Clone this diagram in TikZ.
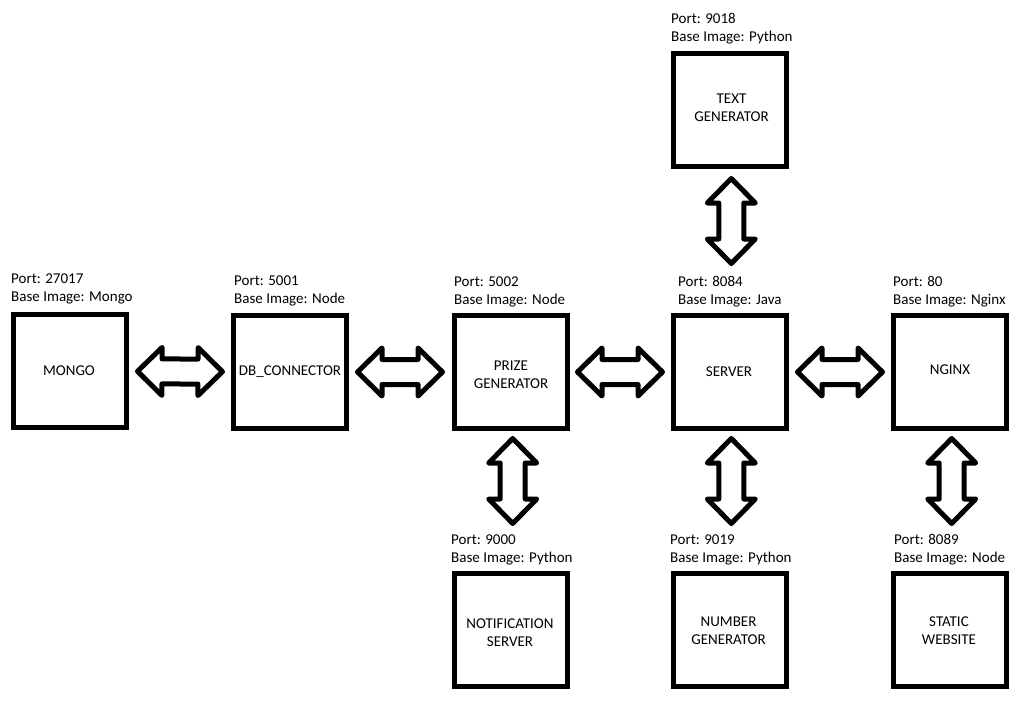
\documentclass[tikz,border=0pt]{standalone}
\usepackage{fontspec}
\setmainfont{Carlito}
\usetikzlibrary{calc}
\newcommand{\arrowpt}[2]{($(\tikztostart)!#1!(\tikztotarget)!#2!90:(\tikztotarget)$)}
\tikzset{
    service/.style={draw,line width=5pt,minimum size=113pt,inner sep=0pt},
    caption/.style={inner sep=0pt,align=center,
    font=\fontsize{15pt}{18pt}\selectfont},
    info/.style={anchor=south west,inner sep=0pt,align=left,
    font=\fontsize{15pt}{18pt}\selectfont},
    bothway/.style 2 args={line width=5pt,line join=round,
    to path={\arrowpt{#1}{#2}
        -- \arrowpt{#1+24.5pt}{#2+24pt} -- \arrowpt{#1+24.5pt}{#2+12.5pt}
        -- \arrowpt{#1+60.5pt}{#2+12.5pt} -- \arrowpt{#1+60.5pt}{#2+24pt}
        -- \arrowpt{#1+85pt}{#2}
        -- \arrowpt{#1+60.5pt}{#2-24pt} -- \arrowpt{#1+60.5pt}{#2-12.5pt}
        -- \arrowpt{#1+24.5pt}{#2-12.5pt} -- \arrowpt{#1+24.5pt}{#2-24pt}
        -- cycle}},
}
\begin{document}
\begin{tikzpicture}[x=1pt,y=-1pt]
    \useasboundingbox (0,0) rectangle (1034,709);
    \node[service,label={[caption,xshift=-1pt]center:MONGO}] (mongo) at (70,371) {};
    \node[service,label={[caption]center:DB\_CONNECTOR}] (dbconn) at (290,372) {};
    \node[service,label={[caption,yshift=-3pt]center:PRIZE\\GENERATOR}] (prize) at (511,372) {};
    \node[service,label={[caption,xshift=-1pt]center:SERVER}] (server) at (730,372) {};
    \node[service,label={[caption,yshift=2pt]center:NGINX}] (nginx) at (950,372) {};
    \node[service,label={[caption,xshift=1.5pt,yshift=2pt]center:TEXT\\GENERATOR}] (textgen) at (730,110) {};
    \node[service,label={[caption,xshift=-1pt,yshift=-3pt]center:NOTIFICATION\\SERVER}] (notif) at (511,630) {};
    \node[service,label={[caption,xshift=-1.5pt,yshift=-1pt]center:NUMBER\\GENERATOR}] (numgen) at (730,630) {};
    \node[service,label={[caption,xshift=-1pt,yshift=-1pt]center:STATIC\\WEBSITE}] (static) at (950,630) {};
    \node[info] (mongoinfo) at (11,304) {Port: 27017\\Base Image: Mongo};
    \node[info] (dbinfo) at (234,306) {Port: 5001\\Base Image: Node};
    \node[info] (prizeinfo) at (454,307) {Port: 5002\\Base Image: Node};
    \node[info] (serverinfo) at (678,307) {Port: 8084\\Base Image: Java};
    \node[info] (nginxinfo) at (893,307) {Port: 80\\Base Image: Nginx};
    \node[info] (textinfo) at (671,44) {Port: 9018\\Base Image: Python};
    \node[info] (notifinfo) at (451,565) {Port: 9000\\Base Image: Python};
    \node[info] (numinfo) at (670,565) {Port: 9019\\Base Image: Python};
    \node[info] (staticinfo) at (894,565) {Port: 8089\\Base Image: Node};
    \draw[bothway={67.5pt}{0pt}]
          (mongo) edge (dbconn)
          (dbconn) edge (prize)
          (server) edge (nginx);
    \draw[bothway={66.5pt}{0pt}]
          (prize) edge (server);
    \draw[bothway={68.5pt}{1.3pt}]
          (textgen) edge (server);
    \draw[bothway={66.5pt}{1.7pt}]
          (prize) edge (notif)
          (nginx) edge (static);
    \draw[bothway={66.5pt}{1.3pt}]
          (server) edge (numgen);
\end{tikzpicture}
\end{document}
